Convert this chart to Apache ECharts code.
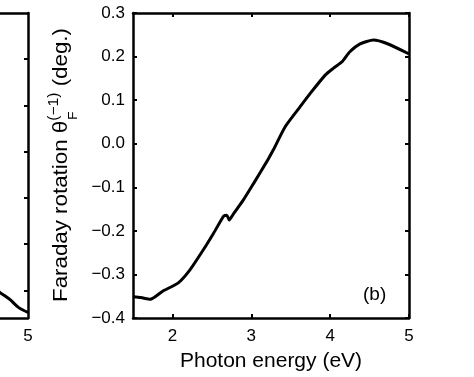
<!DOCTYPE html>
<html>
<head>
<meta charset="utf-8">
<script src="https://cdn.jsdelivr.net/npm/echarts@6/dist/echarts.min.js"></script>
<style>
  html, body { margin: 0; padding: 0; background: #fff; }
  #main { width: 474px; height: 377px; }
</style>
</head>
<body>
<div id="main"></div>
<script>
var chart = echarts.init(document.getElementById('main'));

// panel (b): photon energy (eV) vs Faraday rotation (deg.)
var energy = [1.50, 1.60, 1.72, 1.88, 2.07, 2.22, 2.39, 2.52, 2.65, 2.69, 2.72, 2.77,
    2.90, 3.03, 3.20, 3.28, 3.43, 3.62, 3.75, 3.94, 4.04, 4.15, 4.25, 4.38, 4.55, 4.72, 4.99, 5.00];
var rotation = [-0.351, -0.353, -0.357, -0.338, -0.320, -0.290, -0.244, -0.206, -0.166, -0.164, -0.175, -0.162,
    -0.129, -0.091, -0.040, -0.014, 0.039, 0.085, 0.116, 0.158, 0.173, 0.188, 0.211, 0.229, 0.238, 0.230, 0.207, 0.205];

// edge of panel (a), only its right end is visible
var leftEnergy = [4.62, 4.65, 4.71, 4.78, 4.88, 4.975, 5.0];
var leftValue = [0.0, -0.05, -0.12, -0.21, -0.37, -0.46, -0.48];

var xTicks = [2, 3, 4, 5];
var leftYTicks = [0, 1, 2, 3, 4, 5];

var font = 'Liberation Sans, Arial, Helvetica, sans-serif';
var frame = { show: true, onZero: false, lineStyle: { color: '#000', width: 2.5 } };
var tickIn = { show: true, inside: true, length: 4, lineStyle: { color: '#000', width: 2 } };

// y axis title with stacked super/subscript, built as graphic text
var mainTxt = 'Faraday rotation θ', supTxt = '(−1)', subTxt = 'F', tailTxt = ' (deg.)';
var ctx = document.createElement('canvas').getContext('2d');
function w(t, size) { ctx.font = size + 'px ' + font; return ctx.measureText(t).width; }
var wMain = w(mainTxt, 20), wSup = w(supTxt, 14), wSub = w(subTxt, 12), wTail = w(tailTxt, 20);
var total = wMain + Math.max(wSup, wSub) + wTail;
var stretch = 274 / total;

var option = {
    animation: false,
    grid: [
        { left: 133, right: 65, top: 13, bottom: 59 },
        { left: 0, right: 446, top: 13, bottom: 59 }
    ],
    xAxis: [
        {
            gridIndex: 0, type: 'value', position: 'bottom', min: 1.5, max: 5,
            name: 'Photon energy (eV)', nameLocation: 'middle', nameGap: 33,
            nameTextStyle: { fontSize: 21, color: '#000', fontFamily: font },
            axisLine: frame, axisTick: Object.assign({ customValues: xTicks }, tickIn),
            axisLabel: { customValues: xTicks, fontSize: 17, color: '#000', fontFamily: font, margin: 10 },
            splitLine: { show: false }
        },
        {
            gridIndex: 0, type: 'value', position: 'top', min: 1.5, max: 5,
            axisLine: frame, axisTick: Object.assign({ customValues: xTicks }, tickIn),
            axisLabel: { show: false }, splitLine: { show: false }
        },
        {
            gridIndex: 1, type: 'value', position: 'bottom', min: 4.65, max: 5,
            axisLine: frame, axisTick: { show: false },
            axisLabel: { customValues: [5], fontSize: 17, color: '#000', fontFamily: font, margin: 10 },
            splitLine: { show: false }
        },
        {
            gridIndex: 1, type: 'value', position: 'top', min: 4.65, max: 5,
            axisLine: frame, axisTick: { show: false }, axisLabel: { show: false }, splitLine: { show: false }
        }
    ],
    yAxis: [
        {
            gridIndex: 0, type: 'value', position: 'left', min: -0.4, max: 0.3, interval: 0.1,
            axisLine: frame, axisTick: tickIn,
            axisLabel: {
                fontSize: 17, color: '#000', fontFamily: font, margin: 8,
                formatter: function (v) {
                    if (Math.abs(v) < 1e-9) return '0.0';
                    return v.toFixed(1).replace('-', '−');
                }
            },
            splitLine: { show: false }
        },
        {
            gridIndex: 0, type: 'value', position: 'right', min: -0.4, max: 0.3, interval: 0.1,
            axisLine: frame, axisTick: tickIn, axisLabel: { show: false }, splitLine: { show: false }
        },
        {
            gridIndex: 1, type: 'value', position: 'right', min: -0.6, max: 6,
            axisLine: frame, axisTick: Object.assign({ customValues: leftYTicks }, tickIn),
            axisLabel: { show: false }, splitLine: { show: false }
        }
    ],
    series: [
        {
            type: 'line', xAxisIndex: 0, yAxisIndex: 0,
            data: energy.map(function (e, i) { return [e, rotation[i]]; }),
            showSymbol: false, smooth: 0.2,
            lineStyle: { color: '#000', width: 3 }
        },
        {
            type: 'line', xAxisIndex: 2, yAxisIndex: 2,
            data: leftEnergy.map(function (e, i) { return [e, leftValue[i]]; }),
            showSymbol: false, smooth: 0.3,
            lineStyle: { color: '#000', width: 3 }
        }
    ],
    graphic: [
        {
            type: 'group', x: 68, y: 302, rotation: Math.PI / 2, scaleX: stretch,
            children: [
                { type: 'text', x: 0, y: -7, style: { text: mainTxt, font: '20px ' + font, fill: '#000', verticalAlign: 'middle' } },
                { type: 'text', x: wMain, y: -14, style: { text: supTxt, font: '14px ' + font, fill: '#000', verticalAlign: 'middle' } },
                { type: 'text', x: wMain + 1, y: 6, style: { text: subTxt, font: '12px ' + font, fill: '#000', verticalAlign: 'middle' } },
                { type: 'text', x: wMain + Math.max(wSup, wSub), y: -7, style: { text: tailTxt, font: '20px ' + font, fill: '#000', verticalAlign: 'middle' } }
            ]
        },
        {
            type: 'text', left: 363, top: 285,
            style: { text: '(b)', font: '19px ' + font, fill: '#000' }
        }
    ]
};

chart.setOption(option);
</script>
</body>
</html>
